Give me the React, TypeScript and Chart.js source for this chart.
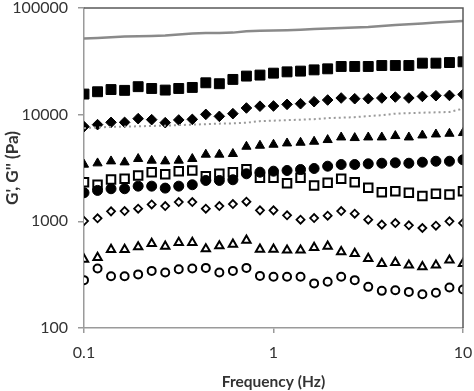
import React, { useEffect, useRef } from 'react';
import { Chart, registerables } from 'chart.js';

Chart.register(...registerables);

const frequencies = [
  0.1, 0.1179, 0.1389, 0.1638, 0.1931, 0.2276, 0.2683, 0.3162, 0.3728, 0.4394,
  0.5179, 0.6105, 0.7197, 0.8483, 1, 1.179, 1.389, 1.638, 1.931, 2.276,
  2.683, 3.162, 3.728, 4.394, 5.179, 6.105, 7.197, 8.483, 10,
];

const solidGrayLine = [
  51650, 52430, 53230, 53930, 54380, 54740, 55340, 56540, 57770, 58140,
  58400, 58770, 60560, 61220, 61610, 62010, 62690, 63640, 64330, 65030,
  65740, 66440, 67900, 69370, 70430, 71640, 73200, 74300, 75600,
];

const filledSquares = [
  15600, 16400, 17200, 16900, 18300, 17600, 17000, 17600, 18000, 19900,
  19500, 21400, 23000, 23500, 24500, 25200, 25600, 26300, 26900, 28300,
  28300, 28300, 28900, 28900, 28900, 30400, 30400, 30800, 31300,
];

const filledDiamonds = [
  7725, 8064, 8472, 8472, 9175, 8981, 8418, 8923, 9039, 10065,
  9640, 10220, 11550, 12010, 12060, 12490, 12670, 13230, 13720, 14330,
  14110, 14110, 14330, 14640, 14330, 14830, 15050, 15150, 15480,
];

const dottedGrayLine = [
  7478, 7608, 7674, 7725, 7775, 7841, 7892, 7978, 8064, 8151,
  8240, 8293, 8418, 8696, 8789, 8885, 8981, 9077, 9276, 9376,
  9476, 9683, 9892, 10220, 10330, 10440, 10510, 10600, 11380,
];

const filledTriangles = [
  3409, 3506, 3660, 3582, 3855, 3716, 3660, 3716, 3855, 4229,
  4229, 4293, 5022, 5132, 5243, 5392, 5474, 5594, 5802, 6136,
  6056, 6136, 6136, 6322, 6136, 6404, 6544, 6644, 6745,
];

const filledCircles = [
  1854, 1949, 2021, 2021, 2137, 2137, 2048, 2137, 2203, 2417,
  2417, 2453, 2791, 2888, 2952, 2997, 3062, 3129, 3288, 3409,
  3409, 3462, 3506, 3536, 3506, 3582, 3660, 3660, 3772,
];

const openSquares = [
  2330, 2203, 2469, 2506, 2691, 2888, 2768, 2952, 2997, 2651,
  2791, 2888, 3082, 2561, 2561, 2280, 2561, 2170, 2300, 2506,
  2330, 2065, 1878, 1919, 1854, 1724, 1815, 1788, 1919,
];

const openDiamonds = [
  1006, 1067, 1240, 1248, 1314, 1441, 1390, 1515, 1515, 1314,
  1390, 1451, 1528, 1267, 1267, 1138, 1037, 1073, 1130, 1248,
  1180, 1037, 931, 964, 917, 866, 911, 1000, 964,
];

const openTriangles = [
  441, 458, 544, 544, 575, 619, 584, 632, 632, 551,
  588, 610, 664, 547, 547, 536, 536, 568, 584, 517,
  499, 448, 402, 411, 388, 374, 388, 432, 402,
];

const openCircles = [
  281, 361, 306, 306, 318, 343, 332, 356, 361, 366,
  332, 343, 366, 308, 302, 302, 302, 262, 271, 302,
  281, 243, 223, 226, 218, 207, 214, 240, 230,
];

const xTickValues = [0.1, 1, 10];
const yTickValues = [100, 1000, 10000, 100000];

const toPoints = (values: number[]) => values.map((v, i) => ({ x: frequencies[i], y: v }));

const frameBorder = {
  id: 'frameBorder',
  afterDatasetsDraw(chart: any) {
    const { ctx, chartArea } = chart;
    ctx.save();
    ctx.strokeStyle = '#5a5a5a';
    ctx.lineWidth = 1.5;
    ctx.beginPath();
    ctx.moveTo(chartArea.left, chartArea.top);
    ctx.lineTo(chartArea.right, chartArea.top);
    ctx.lineTo(chartArea.right, chartArea.bottom);
    ctx.stroke();
    ctx.restore();
  },
};

export default function App() {
  const canvasRef = useRef<HTMLCanvasElement | null>(null);

  useEffect(() => {
    document.body.style.margin = '0';
    const canvas = canvasRef.current;
    if (!canvas) return;

    const marker = (
      values: number[],
      style: string,
      radius: number,
      filled: boolean,
      borderWidth: number
    ) => ({
      data: toPoints(values),
      showLine: false,
      pointStyle: style,
      pointRadius: radius,
      pointBackgroundColor: filled ? '#000000' : '#ffffff',
      pointBorderColor: '#000000',
      pointBorderWidth: borderWidth,
    });

    const chart = new Chart(canvas, {
      type: 'scatter',
      data: {
        datasets: [
          {
            data: toPoints(solidGrayLine),
            showLine: true,
            borderColor: '#8a8a8a',
            borderWidth: 2.5,
            pointRadius: 0,
          } as any,
          {
            data: toPoints(dottedGrayLine),
            showLine: true,
            borderColor: '#9a9a9a',
            borderWidth: 2,
            borderDash: [2, 3],
            pointRadius: 0,
          } as any,
          marker(filledSquares, 'rect', 7, true, 1),
          marker(filledDiamonds, 'rectRot', 5.3, true, 1),
          marker(filledTriangles, 'triangle', 5.3, true, 1),
          marker(filledCircles, 'circle', 5, true, 1),
          marker(openSquares, 'rect', 6, false, 2),
          marker(openDiamonds, 'rectRot', 4, false, 1.8),
          marker(openTriangles, 'triangle', 4.8, false, 2),
          marker(openCircles, 'circle', 4, false, 2),
        ],
      },
      options: {
        animation: false,
        responsive: true,
        maintainAspectRatio: false,
        layout: { padding: { top: 7, right: 11, left: 0, bottom: 0 } },
        plugins: {
          legend: { display: false },
          tooltip: { enabled: false },
        },
        scales: {
          x: {
            type: 'logarithmic',
            min: 0.1,
            max: 10,
            afterBuildTicks: (scale: any) => {
              scale.ticks = xTickValues.map((v) => ({ value: v }));
            },
            afterFit: (scale: any) => {
              scale.height = 63;
              scale.paddingLeft = 0;
              scale.paddingRight = 0;
            },
            ticks: {
              callback: (v: any) => String(v),
              autoSkip: false,
              maxRotation: 0,
              color: '#333333',
              padding: 10,
              font: { family: 'Lato', size: 16 },
            },
            grid: {
              display: true,
              drawOnChartArea: false,
              tickLength: 5,
              color: '#9a9a9a',
              lineWidth: 1.5,
            },
            border: { display: true, color: '#9a9a9a', width: 1.5 },
            title: {
              display: true,
              text: 'Frequency (Hz)',
              color: '#333333',
              font: { family: 'Lato', size: 15.5, weight: 'bold' },
              padding: { top: 4, bottom: 0 },
            },
          },
          y: {
            type: 'logarithmic',
            min: 100,
            max: 100000,
            afterBuildTicks: (scale: any) => {
              scale.ticks = yTickValues.map((v) => ({ value: v }));
            },
            afterFit: (scale: any) => {
              scale.width = 84;
              scale.paddingTop = 0;
              scale.paddingBottom = 0;
            },
            ticks: {
              callback: (v: any) => String(v),
              autoSkip: false,
              color: '#333333',
              padding: 10,
              font: { family: 'Lato', size: 16 },
            },
            grid: {
              display: true,
              drawOnChartArea: false,
              tickLength: 6,
              color: '#9a9a9a',
              lineWidth: 1.5,
            },
            border: { display: true, color: '#9a9a9a', width: 1.5 },
            title: {
              display: true,
              text: "G', G'' (Pa)",
              color: '#333333',
              font: { family: 'Lato', size: 17, weight: 'bold' },
              padding: { top: 2, bottom: 0 },
            },
          },
        },
      },
      plugins: [frameBorder],
    } as any);

    return () => {
      chart.destroy();
    };
  }, []);

  return (
    <div style={{ position: 'fixed', left: 0, top: 0, width: 474, height: 391 }}>
      <canvas ref={canvasRef} />
    </div>
  );
}
